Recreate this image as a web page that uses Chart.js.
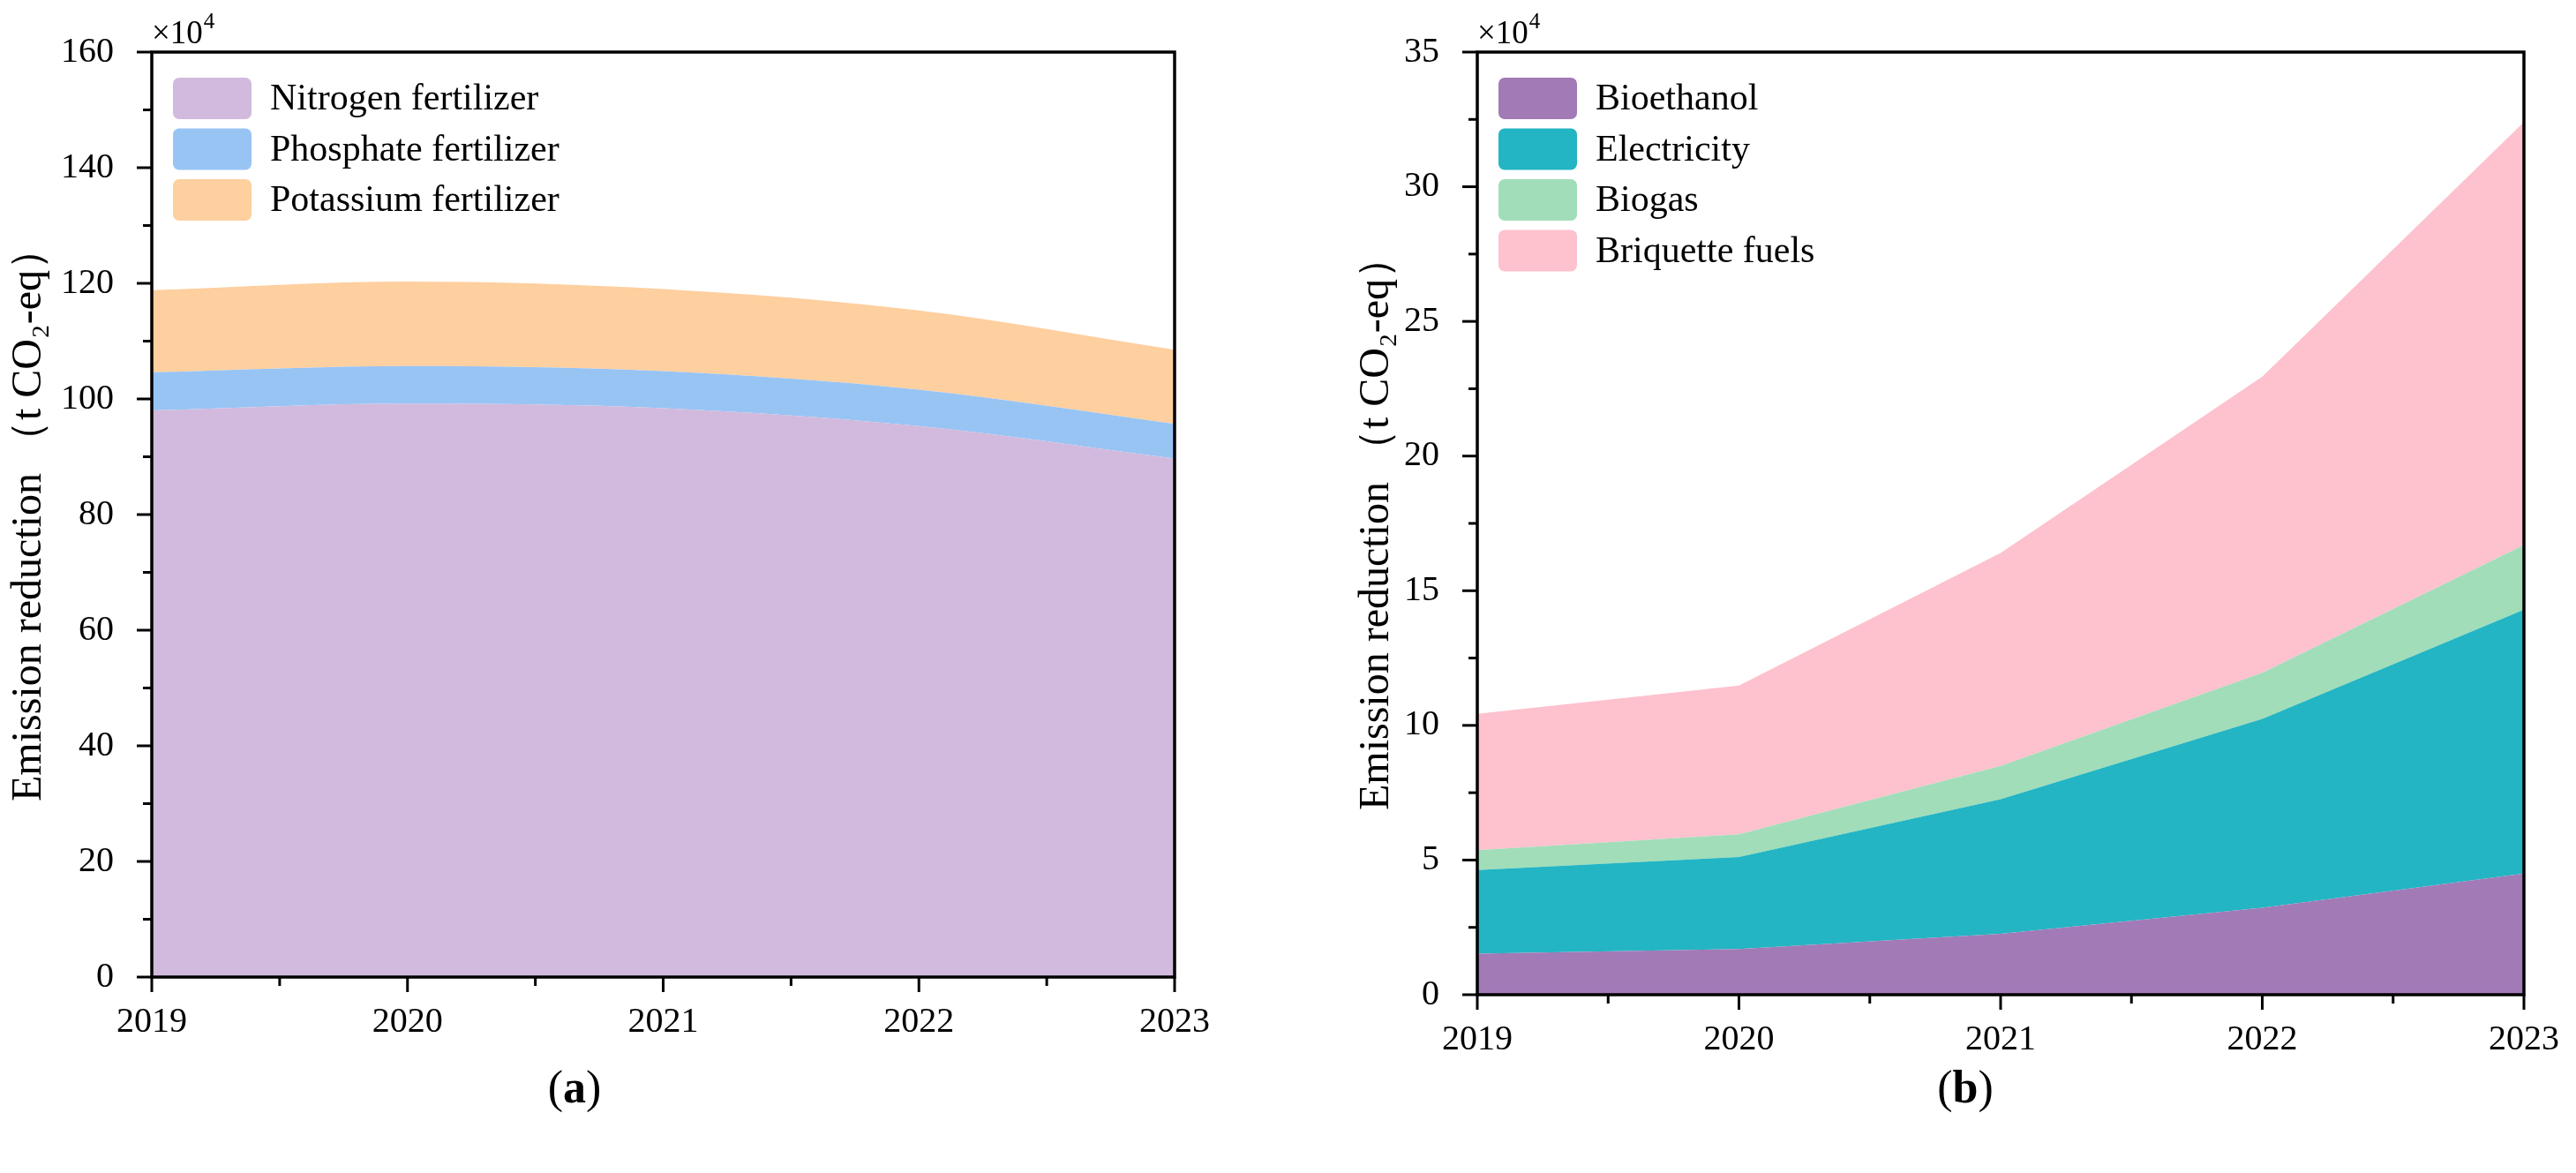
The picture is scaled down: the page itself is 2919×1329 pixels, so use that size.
<!DOCTYPE html>
<html>
<head>
<meta charset="utf-8">
<script src="https://cdn.jsdelivr.net/npm/chart.js@4.4.1/dist/chart.umd.min.js"></script>
<style>
  body { margin:0; background:#fff; width:2919px; height:1329px; position:relative; overflow:hidden; }
  canvas { position:absolute; top:0; }
  .cap { position:absolute; top:1202px; font:52px 'Liberation Serif', serif; color:#000; transform:translateX(-50%); }
</style>
</head>
<body>
<canvas id="chart_a" width="1460" height="1329" style="left:0"></canvas>
<canvas id="chart_b" width="1459" height="1329" style="left:1460px"></canvas>
<div class="cap" style="left:651px">(<b>a</b>)</div>
<div class="cap" style="left:2227px">(<b>b</b>)</div>
<script>
// data (units of 10^4 t CO2-eq)
const years = ['2019', '2020', '2021', '2022', '2023'];

const nitrogen  = [98.0, 99.2, 98.4, 95.3, 89.7];
const phosphate = [6.6, 6.5, 6.4, 6.3, 6.0];
const potassium = [14.2, 14.6, 14.2, 13.7, 12.8];

const bioethanol  = [1.52, 1.70, 2.26, 3.23, 4.50];
const electricity = [3.11, 3.41, 5.00, 7.01, 9.80];
const biogas      = [0.74, 0.85, 1.24, 1.71, 2.40];
const briquette   = [5.06, 5.52, 7.90, 11.00, 15.70];

const yTicksA = [0, 20, 40, 60, 80, 100, 120, 140, 160];
const yTicksB = [0, 5, 10, 15, 20, 25, 30, 35];

const yTitle = 'Emission reduction （t CO₂-eq）';
const serif = "'Liberation Serif', 'Times New Roman', serif";

Chart.defaults.font.family = serif;
Chart.defaults.color = '#000';

// frame, major/minor ticks, legend and x10^4 label
const frame = {
  id: 'frame',
  afterDatasetsDraw(chart, args, opts) {
    const ctx = chart.ctx;
    const a = chart.chartArea;
    const x = chart.scales.x, y = chart.scales.y;
    const line = (x1, y1, x2, y2) => { ctx.beginPath(); ctx.moveTo(x1, y1); ctx.lineTo(x2, y2); ctx.stroke(); };
    ctx.save();
    ctx.strokeStyle = '#000';
    ctx.lineWidth = 3;
    y.ticks.forEach((t, i) => {
      const py = y.getPixelForTick(i);
      const len = opts.major.includes(t.value) ? 17 : 10;
      line(a.left - len, py, a.left, py);
    });
    x.ticks.forEach((t, i) => {
      const px = x.getPixelForTick(i);
      line(px, a.bottom, px, a.bottom + 17);
      if (i > 0) {
        const mid = (px + x.getPixelForTick(i - 1)) / 2;
        line(mid, a.bottom, mid, a.bottom + 10);
      }
    });
    ctx.lineWidth = 3.5;
    ctx.strokeRect(a.left, a.top, a.right - a.left, a.bottom - a.top);

    // legend
    ctx.font = '42px ' + serif;
    ctx.textBaseline = 'middle';
    chart.data.datasets.forEach((ds, i) => {
      const bx = a.left + 24, by = a.top + 29 + i * 57.5;
      ctx.fillStyle = ds.backgroundColor;
      ctx.beginPath();
      ctx.roundRect(bx, by, 89, 47, 7);
      ctx.fill();
      ctx.fillStyle = '#000';
      ctx.fillText(ds.label, a.left + 134, by + 25);
    });

    // axis multiplier
    ctx.textBaseline = 'alphabetic';
    ctx.font = '37px ' + serif;
    ctx.fillText('×10', a.left, a.top - 10);
    const w = ctx.measureText('×10').width;
    ctx.font = '25px ' + serif;
    ctx.fillText('4', a.left + w + 1, a.top - 27);
    ctx.restore();
  }
};

function area(label, data, color, first) {
  return {
    label: label,
    data: data,
    backgroundColor: color,
    borderWidth: 0,
    pointRadius: 0,
    fill: first ? 'origin' : '-1'
  };
}

function makeOptions(max, step, major, pad, yWidth, titlePad, smooth) {
  return {
    responsive: false,
    animation: false,
    layout: { padding: pad },
    elements: { line: { tension: smooth ? 0.4 : 0, cubicInterpolationMode: smooth ? 'monotone' : 'default' } },
    plugins: { legend: { display: false }, tooltip: { enabled: false }, frame: { major: major } },
    scales: {
      x: {
        offset: false,
        grid: { display: false },
        border: { display: false },
        ticks: { font: { family: serif, size: 40 }, padding: 19, maxRotation: 0 },
        afterFit(s) { s.height = 80; }
      },
      y: {
        stacked: true,
        min: 0,
        max: max,
        grid: { display: false },
        border: { display: false },
        ticks: {
          stepSize: step,
          font: { family: serif, size: 40 },
          padding: 35,
          callback: (v) => major.includes(v) ? String(v) : ''
        },
        title: { display: true, text: yTitle, font: { family: serif, size: 48 }, padding: { top: titlePad, bottom: 0 } },
        afterFit(s) { s.width = yWidth; }
      }
    }
  };
}

new Chart(document.getElementById('chart_a'), {
  type: 'line',
  data: {
    labels: years,
    datasets: [
      area('Nitrogen fertilizer', nitrogen, '#d1badd', true),
      area('Phosphate fertilizer', phosphate, '#98c4f4'),
      area('Potassium fertilizer', potassium, '#fecf9f')
    ]
  },
  options: makeOptions(160, 10, yTicksA, { top: 57, right: 129, bottom: 142, left: 0 }, 172, 5, true),
  plugins: [frame]
});

new Chart(document.getElementById('chart_b'), {
  type: 'line',
  data: {
    labels: years,
    datasets: [
      area('Bioethanol', bioethanol, '#a17ab6', true),
      area('Electricity', electricity, '#23b5c3'),
      area('Biogas', biogas, '#a1ddb9'),
      area('Briquette fuels', briquette, '#fec1ce')
    ]
  },
  options: makeOptions(35, 2.5, yTicksB, { top: 50, right: 51, bottom: 122, left: 0 }, 214, 72, false),
  plugins: [frame]
});
</script>
</body>
</html>
